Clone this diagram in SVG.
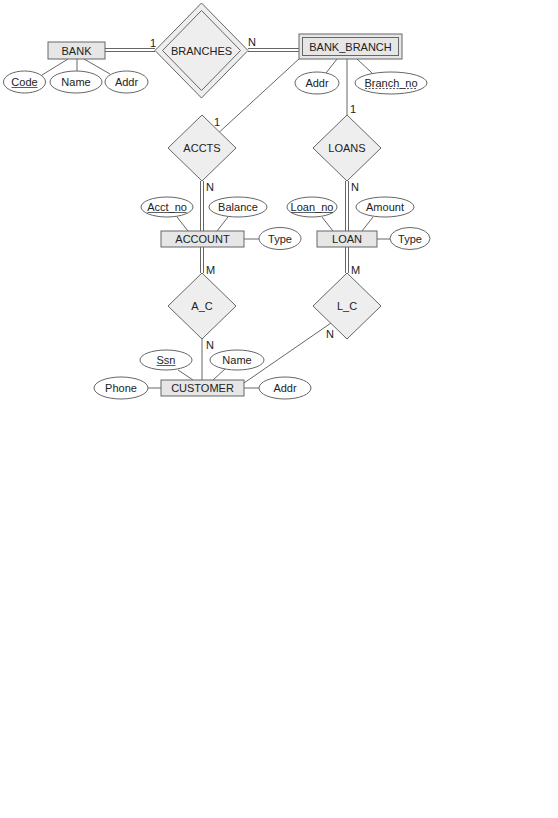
<svg xmlns="http://www.w3.org/2000/svg" width="558" height="818" viewBox="0 0 558 818">
<style>
.ent{fill:#e6e6e6;stroke:#666;stroke-width:1}
.rel{fill:#eeeeee;stroke:#666;stroke-width:1}
.att{fill:#fff;stroke:#666;stroke-width:1}
.ln{stroke:#666;stroke-width:1;fill:none}
.ul{stroke:#333;stroke-width:0.8;fill:none}
text{font-family:"Liberation Sans",Arial,sans-serif;font-size:11px;fill:#222;text-anchor:middle;dominant-baseline:central}
.lbl{text-anchor:start}
</style>
<rect width="558" height="818" fill="#fff"/>
<g id="connectors">
<line class="ln" x1="105" y1="48.5" x2="155" y2="48.5"/>
<line class="ln" x1="105" y1="51.5" x2="155" y2="51.5"/>
<line class="ln" x1="248" y1="48.5" x2="299" y2="48.5"/>
<line class="ln" x1="248" y1="51.5" x2="299" y2="51.5"/>
<line class="ln" x1="68" y1="59" x2="42" y2="75"/>
<line class="ln" x1="77" y1="59" x2="77" y2="71"/>
<line class="ln" x1="84" y1="59" x2="110" y2="74"/>
<line class="ln" x1="337" y1="59" x2="326" y2="73"/>
<line class="ln" x1="357" y1="59" x2="372" y2="73"/>
<line class="ln" x1="347" y1="59" x2="347" y2="115"/>
<line class="ln" x1="300" y1="58" x2="219.4" y2="132"/>
<line class="ln" x1="200.5" y1="181" x2="200.5" y2="231"/>
<line class="ln" x1="203.5" y1="181" x2="203.5" y2="231"/>
<line class="ln" x1="345.5" y1="181" x2="345.5" y2="231"/>
<line class="ln" x1="348.5" y1="181" x2="348.5" y2="231"/>
<line class="ln" x1="177" y1="217" x2="188" y2="231"/>
<line class="ln" x1="228" y1="217" x2="217" y2="231"/>
<line class="ln" x1="244" y1="239" x2="259" y2="239"/>
<line class="ln" x1="322" y1="217" x2="333" y2="231"/>
<line class="ln" x1="373" y1="217" x2="362" y2="231"/>
<line class="ln" x1="377" y1="239" x2="390" y2="239"/>
<line class="ln" x1="200.5" y1="247" x2="200.5" y2="273"/>
<line class="ln" x1="203.5" y1="247" x2="203.5" y2="273"/>
<line class="ln" x1="345.5" y1="247" x2="345.5" y2="273"/>
<line class="ln" x1="348.5" y1="247" x2="348.5" y2="273"/>
<line class="ln" x1="202" y1="339" x2="202" y2="380"/>
<line class="ln" x1="244" y1="383" x2="331" y2="323"/>
<line class="ln" x1="178" y1="370" x2="193" y2="380"/>
<line class="ln" x1="225" y1="369" x2="213" y2="380"/>
<line class="ln" x1="148" y1="388" x2="161" y2="388"/>
<line class="ln" x1="244" y1="388" x2="259" y2="388"/>
</g>
<g id="cardinalities">
<text class="lbl" x="150" y="43">1</text>
<text class="lbl" x="248" y="42">N</text>
<text class="lbl" x="350" y="109">1</text>
<text class="lbl" x="214" y="122">1</text>
<text class="lbl" x="206" y="187">N</text>
<text class="lbl" x="351" y="187">N</text>
<text class="lbl" x="206" y="270">M</text>
<text class="lbl" x="351" y="270">M</text>
<text class="lbl" x="206" y="345">N</text>
<text class="lbl" x="326" y="334">N</text>
</g>
<g id="BANK">
<rect class="ent" x="48" y="42" width="57" height="17"/>
<text x="76.5" y="50.5">BANK</text>
</g>
<g id="BANK_Code">
<ellipse class="att" cx="24.5" cy="82" rx="21" ry="11"/>
<text x="24.5" y="82">Code</text>
<line class="ul" x1="11.5" y1="87.5" x2="37.5" y2="87.5"/>
</g>
<g id="BANK_Name">
<ellipse class="att" cx="76" cy="82" rx="26" ry="11"/>
<text x="76" y="82">Name</text>
</g>
<g id="BANK_Addr">
<ellipse class="att" cx="126.5" cy="82" rx="21.5" ry="11"/>
<text x="126.5" y="82">Addr</text>
</g>
<g id="BRANCHES">
<polygon class="rel" points="201.5,3 248,50.5 201.5,98 155,50.5"/>
<polygon class="rel" points="201.5,10.5 240.5,50.5 201.5,90.5 162.5,50.5"/>
<text x="201.5" y="50.5">BRANCHES</text>
</g>
<g id="BANK_BRANCH">
<rect class="ent" x="299" y="34" width="103" height="25"/>
<rect class="ent" x="302.5" y="37.5" width="96" height="18"/>
<text x="350.5" y="46.5">BANK_BRANCH</text>
</g>
<g id="BB_Addr">
<ellipse class="att" cx="317" cy="83" rx="22" ry="11"/>
<text x="317" y="83">Addr</text>
</g>
<g id="BB_Branch_no">
<ellipse class="att" cx="391" cy="83" rx="36" ry="11"/>
<text x="391" y="83">Branch_no</text>
<line class="ul" x1="365" y1="88.5" x2="417" y2="88.5" stroke-dasharray="2,1.5"/>
</g>
<g id="ACCTS">
<polygon class="rel" points="202,115 236,148 202,181 168,148"/>
<text x="202" y="148">ACCTS</text>
</g>
<g id="LOANS">
<polygon class="rel" points="347,115 381,148 347,181 313,148"/>
<text x="347" y="148">LOANS</text>
</g>
<g id="ACCOUNT">
<rect class="ent" x="161" y="231" width="83" height="16"/>
<text x="202.5" y="239">ACCOUNT</text>
</g>
<g id="Acct_no">
<ellipse class="att" cx="167" cy="207" rx="26" ry="10"/>
<text x="167" y="207">Acct_no</text>
<line class="ul" x1="147.5" y1="212.5" x2="186.5" y2="212.5"/>
</g>
<g id="Balance">
<ellipse class="att" cx="238" cy="207" rx="29" ry="10"/>
<text x="238" y="207">Balance</text>
</g>
<g id="ACCOUNT_Type">
<ellipse class="att" cx="280" cy="238.5" rx="21" ry="11"/>
<text x="280" y="238.5">Type</text>
</g>
<g id="LOAN">
<rect class="ent" x="317" y="231" width="60" height="16"/>
<text x="347" y="239">LOAN</text>
</g>
<g id="Loan_no">
<ellipse class="att" cx="312" cy="207" rx="25" ry="10"/>
<text x="312" y="207">Loan_no</text>
<line class="ul" x1="291" y1="212.5" x2="333" y2="212.5"/>
</g>
<g id="Amount">
<ellipse class="att" cx="385" cy="207" rx="29" ry="10"/>
<text x="385" y="207">Amount</text>
</g>
<g id="LOAN_Type">
<ellipse class="att" cx="410" cy="238.5" rx="20" ry="11"/>
<text x="410" y="238.5">Type</text>
</g>
<g id="A_C">
<polygon class="rel" points="202,273 236,306 202,339 168,306"/>
<text x="202" y="306">A_C</text>
</g>
<g id="L_C">
<polygon class="rel" points="347,273 381,306 347,339 313,306"/>
<text x="347" y="306">L_C</text>
</g>
<g id="CUSTOMER">
<rect class="ent" x="161" y="380" width="83" height="16"/>
<text x="202.5" y="388">CUSTOMER</text>
</g>
<g id="Ssn">
<ellipse class="att" cx="166" cy="360" rx="26" ry="10"/>
<text x="166" y="360">Ssn</text>
<line class="ul" x1="156.5" y1="365.5" x2="175.5" y2="365.5"/>
</g>
<g id="CUSTOMER_Name">
<ellipse class="att" cx="237" cy="360" rx="27" ry="10"/>
<text x="237" y="360">Name</text>
</g>
<g id="Phone">
<ellipse class="att" cx="121" cy="388" rx="27" ry="11"/>
<text x="121" y="388">Phone</text>
</g>
<g id="CUSTOMER_Addr">
<ellipse class="att" cx="285" cy="388" rx="26" ry="11"/>
<text x="285" y="388">Addr</text>
</g>
</svg>
